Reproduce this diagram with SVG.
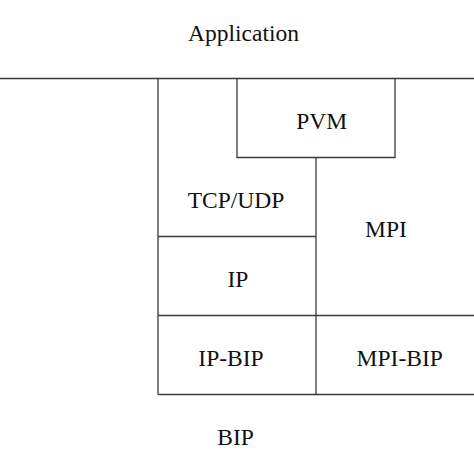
<svg xmlns="http://www.w3.org/2000/svg" width="474" height="474" viewBox="0 0 474 474">
<style>
.ln{stroke:#3a3a3a;stroke-width:1.3;fill:none}
</style>
<rect width="474" height="474" fill="#fff"/>
<g id="connectors">
<line class="ln" x1="0" y1="78.5" x2="474" y2="78.5"/>
<line class="ln" x1="158" y1="78.5" x2="158" y2="394.5"/>
<polyline class="ln" points="237,78.5 237,157.5 395,157.5 395,78.5"/>
<line class="ln" x1="316" y1="157.5" x2="316" y2="394.5"/>
<line class="ln" x1="158" y1="236.5" x2="316" y2="236.5"/>
<line class="ln" x1="158" y1="315.5" x2="474" y2="315.5"/>
<line class="ln" x1="158" y1="394.5" x2="474" y2="394.5"/>
</g>
<g id="nodes" font-family="Liberation Serif" font-size="23.5" fill="#111" text-anchor="middle">
<g id="application"><text x="243.5" y="40.5">Application</text></g>
<g id="pvm"><text x="321.7" y="129">PVM</text></g>
<g id="tcpudp"><text x="236" y="207.5">TCP/UDP</text></g>
<g id="mpi"><text x="386" y="237">MPI</text></g>
<g id="ip"><text x="238" y="286.7">IP</text></g>
<g id="ipbip"><text x="231" y="365.7">IP-BIP</text></g>
<g id="mpibip"><text x="399.7" y="365.7">MPI-BIP</text></g>
<g id="bip"><text x="235.5" y="445">BIP</text></g>
</g>
</svg>
